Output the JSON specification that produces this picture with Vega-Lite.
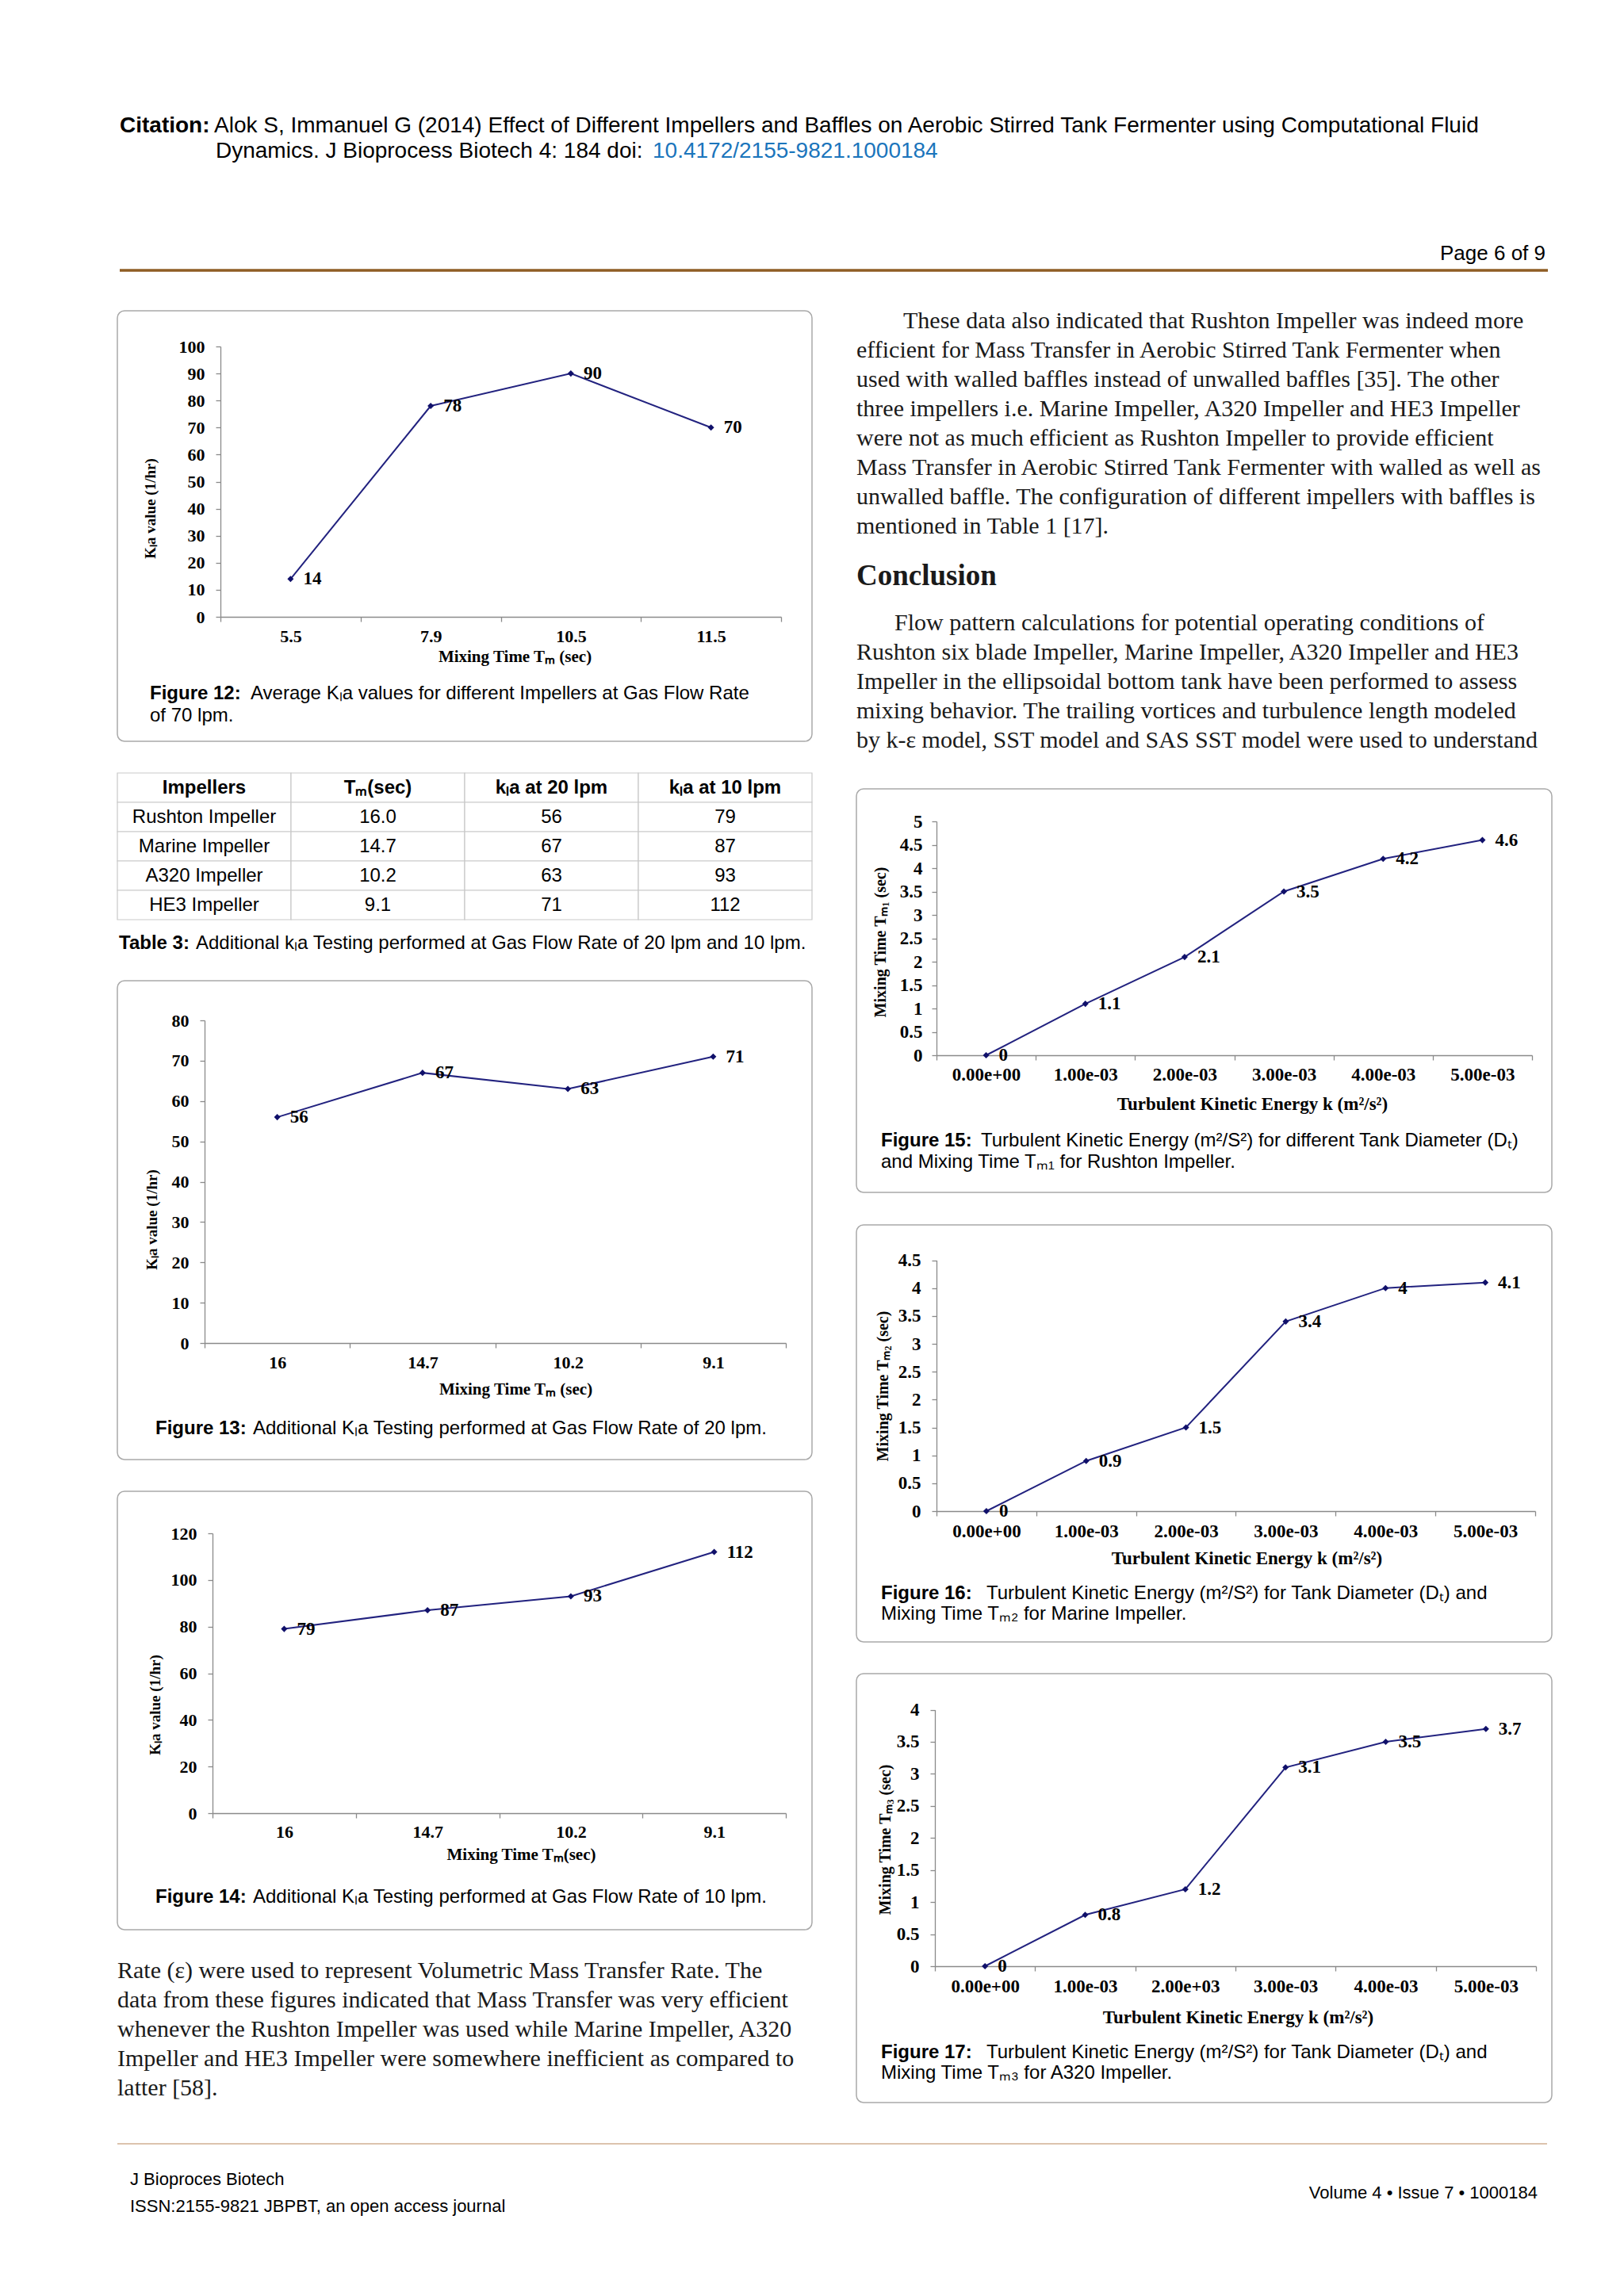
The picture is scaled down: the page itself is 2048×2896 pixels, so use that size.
{
"$schema": "https://vega.github.io/schema/vega-lite/v6.json",
"background": "#ffffff",
"padding": 0,
"spacing": 0,
"config": {
  "view": {"stroke": null},
  "concat": {"spacing": 0},
  "axis": {"domainColor": "#8a8a8a", "domainWidth": 1.3, "tickColor": "#8a8a8a", "tickWidth": 1.3, "tickSize": 6, "labelColor": "#000000", "titleColor": "#000000", "labelFont": "Liberation Serif", "titleFont": "Liberation Serif", "labelFontWeight": "bold", "titleFontWeight": "bold", "grid": false, "labelOverlap": false, "labelFlush": false, "labelBound": false, "titleBaseline": "middle", "titleAlign": "center"},
  "axisX": {"labelAngle": 0, "labelBaseline": "middle"},
  "axisY": {"titleAngle": 270}
},
"vconcat": [
 {"hconcat": [
   {"width": 149, "height": 372, "data": {"values": [{}]}, "mark": "text", "encoding": {"text": {"value": ""}}},
   {"vconcat": [
     {"width": 1801, "height": 143, "data": {"values": [{}]}, "mark": "text", "encoding": {"text": {"value": ""}}},
     {"width": 1801, "height": 64,
      "encoding": {"x": {"value": 0}, "y": {"field": "line", "type": "ordinal", "bandPosition": 0.5, "scale": {"type": "band", "domain": [0, 1], "paddingInner": 0, "paddingOuter": 0}, "axis": null}, "text": {"field": "t"}},
      "layer": [
        {"data": {"values": [{"line": 0, "t": "Citation:"}]}, "mark": {"type": "text", "align": "left", "baseline": "middle", "font": "Liberation Sans", "fontWeight": "bold", "fontSize": 28, "color": "#000000"}},
        {"data": {"values": [{"line": 0, "t": "Alok S, Immanuel G (2014) Effect of Different Impellers and Baffles on Aerobic Stirred Tank Fermenter using Computational Fluid"}]}, "mark": {"type": "text", "align": "left", "baseline": "middle", "font": "Liberation Sans", "fontSize": 28, "color": "#000000", "dx": 119}},
        {"data": {"values": [{"line": 1, "t": "Dynamics. J Bioprocess Biotech 4: 184 doi:"}]}, "mark": {"type": "text", "align": "left", "baseline": "middle", "font": "Liberation Sans", "fontSize": 28, "color": "#000000", "dx": 121}},
        {"data": {"values": [{"line": 1, "t": "10.4172/2155-9821.1000184"}]}, "mark": {"type": "text", "align": "left", "baseline": "middle", "font": "Liberation Sans", "fontSize": 28, "color": "#1b75bc", "dx": 672}}
      ]},
     {"width": 1801, "height": 95, "data": {"values": [{}]}, "mark": "text", "encoding": {"text": {"value": ""}}},
     {"width": 1801, "height": 36, "data": {"values": [{"line": 0, "t": "Page 6 of 9"}]},
      "mark": {"type": "text", "align": "right", "baseline": "middle", "font": "Liberation Sans", "fontSize": 26, "color": "#000000", "dx": -3},
      "encoding": {"x": {"value": "width"}, "y": {"field": "line", "type": "ordinal", "bandPosition": 0.5, "scale": {"type": "band", "paddingInner": 0, "paddingOuter": 0}, "axis": null}, "text": {"field": "t"}}},
     {"width": 1801, "height": 6, "data": {"values": [{"line": 0}]},
      "mark": {"type": "rule", "color": "#8f5d24", "strokeWidth": 3.5},
      "encoding": {"x": {"value": 0}, "x2": {"value": "width"}, "y": {"field": "line", "type": "ordinal", "bandPosition": 0.5, "scale": {"type": "band", "paddingInner": 0, "paddingOuter": 0}, "axis": null}}},
     {"width": 1801, "height": 28, "data": {"values": [{}]}, "mark": "text", "encoding": {"text": {"value": ""}}}
   ], "spacing": 0, "bounds": "flush"}
 ], "spacing": 0},

 {"hconcat": [
   {"width": 147, "height": 2308, "data": {"values": [{}]}, "mark": "text", "encoding": {"text": {"value": ""}}},
   {"vconcat": [
     {"width": 876, "height": 20, "data": {"values": [{}]}, "mark": "text", "encoding": {"text": {"value": ""}}},
     {"width": 876, "height": 543,
      "view": {"stroke": "#a9a9a9", "strokeWidth": 1.5, "cornerRadius": 9},
      "resolve": {"scale": {"y": "independent"}},
      "layer": [
        {"data": {"values": [{"t": "5.5", "v": 14}, {"t": "7.9", "v": 78}, {"t": "10.5", "v": 90}, {"t": "11.5", "v": 70}]},
         "encoding": {
           "x": {"field": "t", "type": "ordinal", "sort": null, "scale": {"type": "band", "range": [130, 837], "paddingInner": 0, "paddingOuter": 0},
                 "axis": {"orient": "bottom", "offset": -157, "tickBand": "extent", "labelFontSize": 22, "labelPadding": 18, "title": "Mixing Time Tₘ (sec)", "titleFontSize": 21, "titleX": 501, "titleY": 50}},
           "y": {"field": "v", "type": "quantitative", "scale": {"domain": [0, 100], "range": [386, 45], "nice": false},
                 "axis": {"orient": "left", "offset": -130, "values": [0, 10, 20, 30, 40, 50, 60, 70, 80, 90, 100], "format": ".1~f", "labelFontSize": 22, "labelPadding": 14, "title": "Kₗa value (1/hr)", "titleFontSize": 19, "titleX": -89, "titleY": 249}}
         },
         "layer": [
           {"mark": {"type": "line", "color": "#22227f", "strokeWidth": 2}},
           {"mark": {"type": "point", "shape": "diamond", "filled": true, "size": 65, "color": "#10106a", "opacity": 1}},
           {"mark": {"type": "text", "align": "left", "baseline": "middle", "dx": 16, "font": "Liberation Serif", "fontWeight": "bold", "fontSize": 23, "color": "#000000"}, "encoding": {"text": {"field": "v", "format": ".1~f"}}}
         ]},
        {"data": {"values": [{"line": 0, "part": "label", "t": "Figure 12:"}, {"line": 0, "part": "rest", "t": "Average Kₗa values for different Impellers at Gas Flow Rate"}, {"line": 1, "part": "cont", "t": "of 70 lpm."}]},
         "encoding": {"x": {"value": 0}, "y": {"field": "line", "type": "quantitative", "scale": {"domain": [0, 1], "range": [483, 511]}, "axis": null}, "text": {"field": "t"}},
         "layer": [
           {"transform": [{"filter": "datum.part === 'label'"}], "mark": {"type": "text", "align": "left", "baseline": "middle", "font": "Liberation Sans", "fontWeight": "bold", "fontSize": 24, "color": "#000000", "dx": 41}},
           {"transform": [{"filter": "datum.part === 'rest'"}], "mark": {"type": "text", "align": "left", "baseline": "middle", "font": "Liberation Sans", "fontSize": 24, "color": "#000000", "dx": 168}},
           {"transform": [{"filter": "datum.part === 'cont'"}], "mark": {"type": "text", "align": "left", "baseline": "middle", "font": "Liberation Sans", "fontSize": 24, "color": "#000000", "dx": 41}}
         ]}
      ]},
     {"width": 876, "height": 40, "data": {"values": [{}]}, "mark": "text", "encoding": {"text": {"value": ""}}},
     {"width": 876, "height": 185,
      "data": {"values": [
        {"r": 0, "c": 0, "t": "Impellers"}, {"r": 0, "c": 1, "t": "Tₘ(sec)"}, {"r": 0, "c": 2, "t": "kₗa at 20 lpm"}, {"r": 0, "c": 3, "t": "kₗa at 10 lpm"},
        {"r": 1, "c": 0, "t": "Rushton Impeller"}, {"r": 1, "c": 1, "t": "16.0"}, {"r": 1, "c": 2, "t": "56"}, {"r": 1, "c": 3, "t": "79"},
        {"r": 2, "c": 0, "t": "Marine Impeller"}, {"r": 2, "c": 1, "t": "14.7"}, {"r": 2, "c": 2, "t": "67"}, {"r": 2, "c": 3, "t": "87"},
        {"r": 3, "c": 0, "t": "A320 Impeller"}, {"r": 3, "c": 1, "t": "10.2"}, {"r": 3, "c": 2, "t": "63"}, {"r": 3, "c": 3, "t": "93"},
        {"r": 4, "c": 0, "t": "HE3 Impeller"}, {"r": 4, "c": 1, "t": "9.1"}, {"r": 4, "c": 2, "t": "71"}, {"r": 4, "c": 3, "t": "112"}
      ]},
      "encoding": {
        "x": {"field": "c", "type": "ordinal", "scale": {"type": "band", "paddingInner": 0, "paddingOuter": 0}, "axis": null},
        "y": {"field": "r", "type": "ordinal", "scale": {"type": "band", "paddingInner": 0, "paddingOuter": 0}, "axis": null}
      },
      "layer": [
        {"mark": {"type": "rect", "fill": "#ffffff", "stroke": "#c9c9c9", "strokeWidth": 1.2}},
        {"transform": [{"filter": "datum.r === 0"}], "mark": {"type": "text", "font": "Liberation Sans", "fontWeight": "bold", "fontSize": 24, "baseline": "middle", "align": "center", "color": "#000000"}, "encoding": {"text": {"field": "t"}}},
        {"transform": [{"filter": "datum.r > 0"}], "mark": {"type": "text", "font": "Liberation Sans", "fontSize": 24, "baseline": "middle", "align": "center", "color": "#000000"}, "encoding": {"text": {"field": "t"}}}
      ]},
     {"width": 876, "height": 60,
      "data": {"values": [{"line": 0, "part": "label", "t": "Table 3:"}, {"line": 0, "part": "rest", "t": "Additional kₗa Testing performed at Gas Flow Rate of 20 lpm and 10 lpm."}]},
      "encoding": {"x": {"value": 0}, "y": {"field": "line", "type": "ordinal", "bandPosition": 0.5, "scale": {"type": "band", "paddingInner": 0, "paddingOuter": 0}, "axis": null}, "text": {"field": "t"}},
      "layer": [
        {"transform": [{"filter": "datum.part === 'label'"}], "mark": {"type": "text", "align": "left", "baseline": "middle", "font": "Liberation Sans", "fontWeight": "bold", "fontSize": 24, "color": "#000000", "dx": 2}},
        {"transform": [{"filter": "datum.part === 'rest'"}], "mark": {"type": "text", "align": "left", "baseline": "middle", "font": "Liberation Sans", "fontSize": 24, "color": "#000000", "dx": 99}}
      ]},
     {"width": 876, "height": 17, "data": {"values": [{}]}, "mark": "text", "encoding": {"text": {"value": ""}}},
     {"width": 876, "height": 604,
      "view": {"stroke": "#a9a9a9", "strokeWidth": 1.5, "cornerRadius": 9},
      "resolve": {"scale": {"y": "independent"}},
      "layer": [
        {"data": {"values": [{"t": "16", "v": 56}, {"t": "14.7", "v": 67}, {"t": "10.2", "v": 63}, {"t": "9.1", "v": 71}]},
         "encoding": {
           "x": {"field": "t", "type": "ordinal", "sort": null, "scale": {"type": "band", "range": [110, 843], "paddingInner": 0, "paddingOuter": 0},
                 "axis": {"orient": "bottom", "offset": -147, "tickBand": "extent", "labelFontSize": 22, "labelPadding": 18, "title": "Mixing Time Tₘ (sec)", "titleFontSize": 21, "titleX": 502, "titleY": 58}},
           "y": {"field": "v", "type": "quantitative", "scale": {"domain": [0, 80], "range": [457, 50], "nice": false},
                 "axis": {"orient": "left", "offset": -110, "values": [0, 10, 20, 30, 40, 50, 60, 70, 80], "format": ".1~f", "labelFontSize": 22, "labelPadding": 14, "title": "Kₗa value (1/hr)", "titleFontSize": 19, "titleX": -67, "titleY": 301}}
         },
         "layer": [
           {"mark": {"type": "line", "color": "#22227f", "strokeWidth": 2}},
           {"mark": {"type": "point", "shape": "diamond", "filled": true, "size": 65, "color": "#10106a", "opacity": 1}},
           {"mark": {"type": "text", "align": "left", "baseline": "middle", "dx": 16, "font": "Liberation Serif", "fontWeight": "bold", "fontSize": 23, "color": "#000000"}, "encoding": {"text": {"field": "v", "format": ".1~f"}}}
         ]},
        {"data": {"values": [{"line": 0, "part": "label", "t": "Figure 13:"}, {"line": 0, "part": "rest", "t": "Additional Kₗa Testing performed at Gas Flow Rate of 20 lpm."}]},
         "encoding": {"x": {"value": 0}, "y": {"field": "line", "type": "quantitative", "scale": {"domain": [0, 1], "range": [565, 593]}, "axis": null}, "text": {"field": "t"}},
         "layer": [
           {"transform": [{"filter": "datum.part === 'label'"}], "mark": {"type": "text", "align": "left", "baseline": "middle", "font": "Liberation Sans", "fontWeight": "bold", "fontSize": 24, "color": "#000000", "dx": 48}},
           {"transform": [{"filter": "datum.part === 'rest'"}], "mark": {"type": "text", "align": "left", "baseline": "middle", "font": "Liberation Sans", "fontSize": 24, "color": "#000000", "dx": 171}}
         ]}
      ]},
     {"width": 876, "height": 40, "data": {"values": [{}]}, "mark": "text", "encoding": {"text": {"value": ""}}},
     {"width": 876, "height": 553,
      "view": {"stroke": "#a9a9a9", "strokeWidth": 1.5, "cornerRadius": 9},
      "resolve": {"scale": {"y": "independent"}},
      "layer": [
        {"data": {"values": [{"t": "16", "v": 79}, {"t": "14.7", "v": 87}, {"t": "10.2", "v": 93}, {"t": "9.1", "v": 112}]},
         "encoding": {
           "x": {"field": "t", "type": "ordinal", "sort": null, "scale": {"type": "band", "range": [120, 843], "paddingInner": 0, "paddingOuter": 0},
                 "axis": {"orient": "bottom", "offset": -147, "tickBand": "extent", "labelFontSize": 22, "labelPadding": 17, "title": "Mixing Time Tₘ(sec)", "titleFontSize": 21, "titleX": 509, "titleY": 52}},
           "y": {"field": "v", "type": "quantitative", "scale": {"domain": [0, 120], "range": [406, 53], "nice": false},
                 "axis": {"orient": "left", "offset": -120, "values": [0, 20, 40, 60, 80, 100, 120], "format": ".1~f", "labelFontSize": 22, "labelPadding": 14, "title": "Kₗa value (1/hr)", "titleFontSize": 19, "titleX": -73, "titleY": 269}}
         },
         "layer": [
           {"mark": {"type": "line", "color": "#22227f", "strokeWidth": 2}},
           {"mark": {"type": "point", "shape": "diamond", "filled": true, "size": 65, "color": "#10106a", "opacity": 1}},
           {"mark": {"type": "text", "align": "left", "baseline": "middle", "dx": 16, "font": "Liberation Serif", "fontWeight": "bold", "fontSize": 23, "color": "#000000"}, "encoding": {"text": {"field": "v", "format": ".1~f"}}}
         ]},
        {"data": {"values": [{"line": 0, "part": "label", "t": "Figure 14:"}, {"line": 0, "part": "rest", "t": "Additional Kₗa Testing performed at Gas Flow Rate of 10 lpm."}]},
         "encoding": {"x": {"value": 0}, "y": {"field": "line", "type": "quantitative", "scale": {"domain": [0, 1], "range": [512, 540]}, "axis": null}, "text": {"field": "t"}},
         "layer": [
           {"transform": [{"filter": "datum.part === 'label'"}], "mark": {"type": "text", "align": "left", "baseline": "middle", "font": "Liberation Sans", "fontWeight": "bold", "fontSize": 24, "color": "#000000", "dx": 48}},
           {"transform": [{"filter": "datum.part === 'rest'"}], "mark": {"type": "text", "align": "left", "baseline": "middle", "font": "Liberation Sans", "fontSize": 24, "color": "#000000", "dx": 171}}
         ]}
      ]},
     {"width": 876, "height": 33, "data": {"values": [{}]}, "mark": "text", "encoding": {"text": {"value": ""}}},
     {"width": 876, "height": 185,
      "data": {"values": [
        {"line": 0, "t": "Rate (ε) were used to represent Volumetric Mass Transfer Rate. The"},
        {"line": 1, "t": "data from these figures indicated that Mass Transfer was very efficient"},
        {"line": 2, "t": "whenever the Rushton Impeller was used while Marine Impeller, A320"},
        {"line": 3, "t": "Impeller and HE3 Impeller were somewhere inefficient as compared to"},
        {"line": 4, "t": "latter [58]."}
      ]},
      "mark": {"type": "text", "align": "left", "baseline": "middle", "font": "Liberation Serif", "fontSize": 30, "color": "#1a1a1a"},
      "encoding": {"x": {"value": 0}, "y": {"field": "line", "type": "ordinal", "bandPosition": 0.5, "scale": {"type": "band", "paddingInner": 0, "paddingOuter": 0}, "axis": null}, "text": {"field": "t"}}},
     {"width": 876, "height": 28, "data": {"values": [{}]}, "mark": "text", "encoding": {"text": {"value": ""}}}
   ], "spacing": 0, "bounds": "flush"},
   {"width": 54, "height": 2308, "data": {"values": [{}]}, "mark": "text", "encoding": {"text": {"value": ""}}},
   {"vconcat": [
     {"width": 877, "height": 14, "data": {"values": [{}]}, "mark": "text", "encoding": {"text": {"value": ""}}},
     {"width": 877, "height": 296,
      "data": {"values": [
        {"line": 0, "t": "These data also indicated that Rushton Impeller was indeed more"},
        {"line": 1, "t": "efficient for Mass Transfer in Aerobic Stirred Tank Fermenter when"},
        {"line": 2, "t": "used with walled baffles instead of unwalled baffles [35]. The other"},
        {"line": 3, "t": "three impellers i.e. Marine Impeller, A320 Impeller and HE3 Impeller"},
        {"line": 4, "t": "were not as much efficient as Rushton Impeller to provide efficient"},
        {"line": 5, "t": "Mass Transfer in Aerobic Stirred Tank Fermenter with walled as well as"},
        {"line": 6, "t": "unwalled baffle. The configuration of different impellers with baffles is"},
        {"line": 7, "t": "mentioned in Table 1 [17]."}
      ]},
      "encoding": {"x": {"value": 0}, "y": {"field": "line", "type": "ordinal", "bandPosition": 0.5, "scale": {"type": "band", "paddingInner": 0, "paddingOuter": 0}, "axis": null}, "text": {"field": "t"}},
      "layer": [
        {"transform": [{"filter": "datum.line === 0"}], "mark": {"type": "text", "align": "left", "baseline": "middle", "font": "Liberation Serif", "fontSize": 30, "color": "#1a1a1a", "dx": 59}},
        {"transform": [{"filter": "datum.line > 0"}], "mark": {"type": "text", "align": "left", "baseline": "middle", "font": "Liberation Serif", "fontSize": 30, "color": "#1a1a1a"}}
      ]},
     {"width": 877, "height": 8, "data": {"values": [{}]}, "mark": "text", "encoding": {"text": {"value": ""}}},
     {"width": 877, "height": 74,
      "data": {"values": [{"line": 0, "t": "Conclusion"}]},
      "mark": {"type": "text", "align": "left", "baseline": "middle", "font": "Liberation Serif", "fontWeight": "bold", "fontSize": 37, "color": "#1a1a1a"},
      "encoding": {"x": {"value": 0}, "y": {"field": "line", "type": "ordinal", "bandPosition": 0.5, "scale": {"type": "band", "paddingInner": 0, "paddingOuter": 0}, "axis": null}, "text": {"field": "t"}}},
     {"width": 877, "height": 3, "data": {"values": [{}]}, "mark": "text", "encoding": {"text": {"value": ""}}},
     {"width": 877, "height": 185,
      "data": {"values": [
        {"line": 0, "t": "Flow pattern calculations for potential operating conditions of"},
        {"line": 1, "t": "Rushton six blade Impeller, Marine Impeller, A320 Impeller and HE3"},
        {"line": 2, "t": "Impeller in the ellipsoidal bottom tank have been performed to assess"},
        {"line": 3, "t": "mixing behavior. The trailing vortices and turbulence length modeled"},
        {"line": 4, "t": "by k-ε model, SST model and SAS SST model were used to understand"}
      ]},
      "encoding": {"x": {"value": 0}, "y": {"field": "line", "type": "ordinal", "bandPosition": 0.5, "scale": {"type": "band", "paddingInner": 0, "paddingOuter": 0}, "axis": null}, "text": {"field": "t"}},
      "layer": [
        {"transform": [{"filter": "datum.line === 0"}], "mark": {"type": "text", "align": "left", "baseline": "middle", "font": "Liberation Serif", "fontSize": 30, "color": "#1a1a1a", "dx": 48}},
        {"transform": [{"filter": "datum.line > 0"}], "mark": {"type": "text", "align": "left", "baseline": "middle", "font": "Liberation Serif", "fontSize": 30, "color": "#1a1a1a"}}
      ]},
     {"width": 877, "height": 43, "data": {"values": [{}]}, "mark": "text", "encoding": {"text": {"value": ""}}},
     {"width": 877, "height": 509,
      "view": {"stroke": "#a9a9a9", "strokeWidth": 1.5, "cornerRadius": 9},
      "resolve": {"scale": {"y": "independent"}},
      "layer": [
        {"data": {"values": [{"t": "0.00e+00", "v": 0}, {"t": "1.00e-03", "v": 1.1}, {"t": "2.00e-03", "v": 2.1}, {"t": "3.00e-03", "v": 3.5}, {"t": "4.00e-03", "v": 4.2}, {"t": "5.00e-03", "v": 4.6}]},
         "encoding": {
           "x": {"field": "t", "type": "ordinal", "sort": null, "scale": {"type": "band", "range": [101, 852], "paddingInner": 0, "paddingOuter": 0},
                 "axis": {"orient": "bottom", "offset": -173, "tickBand": "extent", "labelFontSize": 23, "labelPadding": 18, "title": "Turbulent Kinetic Energy k (m²/s²)", "titleFontSize": 23, "titleX": 499, "titleY": 61}},
           "y": {"field": "v", "type": "quantitative", "scale": {"domain": [0, 5], "range": [336, 41], "nice": false},
                 "axis": {"orient": "left", "offset": -101, "values": [0, 0.5, 1, 1.5, 2, 2.5, 3, 3.5, 4, 4.5, 5], "format": ".1~f", "labelFontSize": 23, "labelPadding": 12, "title": "Mixing Time Tₘ₁ (sec)", "titleFontSize": 20, "titleX": -71, "titleY": 193}}
         },
         "layer": [
           {"mark": {"type": "line", "color": "#22227f", "strokeWidth": 2}},
           {"mark": {"type": "point", "shape": "diamond", "filled": true, "size": 65, "color": "#10106a", "opacity": 1}},
           {"mark": {"type": "text", "align": "left", "baseline": "middle", "dx": 16, "font": "Liberation Serif", "fontWeight": "bold", "fontSize": 23, "color": "#000000"}, "encoding": {"text": {"field": "v", "format": ".1~f"}}}
         ]},
        {"data": {"values": [{"line": 0, "part": "label", "t": "Figure 15:"}, {"line": 0, "part": "rest", "t": "Turbulent Kinetic Energy (m²/S²) for different Tank Diameter (Dₜ)"}, {"line": 1, "part": "cont", "t": "and Mixing Time Tₘ₁ for Rushton Impeller."}]},
         "encoding": {"x": {"value": 0}, "y": {"field": "line", "type": "quantitative", "scale": {"domain": [0, 1], "range": [444, 471]}, "axis": null}, "text": {"field": "t"}},
         "layer": [
           {"transform": [{"filter": "datum.part === 'label'"}], "mark": {"type": "text", "align": "left", "baseline": "middle", "font": "Liberation Sans", "fontWeight": "bold", "fontSize": 24, "color": "#000000", "dx": 31}},
           {"transform": [{"filter": "datum.part === 'rest'"}], "mark": {"type": "text", "align": "left", "baseline": "middle", "font": "Liberation Sans", "fontSize": 24, "color": "#000000", "dx": 157}},
           {"transform": [{"filter": "datum.part === 'cont'"}], "mark": {"type": "text", "align": "left", "baseline": "middle", "font": "Liberation Sans", "fontSize": 24, "color": "#000000", "dx": 31}}
         ]}
      ]},
     {"width": 877, "height": 41, "data": {"values": [{}]}, "mark": "text", "encoding": {"text": {"value": ""}}},
     {"width": 877, "height": 526,
      "view": {"stroke": "#a9a9a9", "strokeWidth": 1.5, "cornerRadius": 9},
      "resolve": {"scale": {"y": "independent"}},
      "layer": [
        {"data": {"values": [{"t": "0.00e+00", "v": 0}, {"t": "1.00e-03", "v": 0.9}, {"t": "2.00e-03", "v": 1.5}, {"t": "3.00e-03", "v": 3.4}, {"t": "4.00e-03", "v": 4}, {"t": "5.00e-03", "v": 4.1}]},
         "encoding": {
           "x": {"field": "t", "type": "ordinal", "sort": null, "scale": {"type": "band", "range": [101, 856], "paddingInner": 0, "paddingOuter": 0},
                 "axis": {"orient": "bottom", "offset": -165, "tickBand": "extent", "labelFontSize": 23, "labelPadding": 19, "title": "Turbulent Kinetic Energy k (m²/s²)", "titleFontSize": 23, "titleX": 492, "titleY": 59}},
           "y": {"field": "v", "type": "quantitative", "scale": {"domain": [0, 4.5], "range": [361, 44.5], "nice": false},
                 "axis": {"orient": "left", "offset": -101, "values": [0, 0.5, 1, 1.5, 2, 2.5, 3, 3.5, 4, 4.5], "format": ".1~f", "labelFontSize": 23, "labelPadding": 14, "title": "Mixing Time Tₘ₂ (sec)", "titleFontSize": 20, "titleX": -68, "titleY": 203}}
         },
         "layer": [
           {"mark": {"type": "line", "color": "#22227f", "strokeWidth": 2}},
           {"mark": {"type": "point", "shape": "diamond", "filled": true, "size": 65, "color": "#10106a", "opacity": 1}},
           {"mark": {"type": "text", "align": "left", "baseline": "middle", "dx": 16, "font": "Liberation Serif", "fontWeight": "bold", "fontSize": 23, "color": "#000000"}, "encoding": {"text": {"field": "v", "format": ".1~f"}}}
         ]},
        {"data": {"values": [{"line": 0, "part": "label", "t": "Figure 16:"}, {"line": 0, "part": "rest", "t": "Turbulent Kinetic Energy (m²/S²) for Tank Diameter (Dₜ) and"}, {"line": 1, "part": "cont", "t": "Mixing Time Tₘ₂ for Marine Impeller."}]},
         "encoding": {"x": {"value": 0}, "y": {"field": "line", "type": "quantitative", "scale": {"domain": [0, 1], "range": [465, 491]}, "axis": null}, "text": {"field": "t"}},
         "layer": [
           {"transform": [{"filter": "datum.part === 'label'"}], "mark": {"type": "text", "align": "left", "baseline": "middle", "font": "Liberation Sans", "fontWeight": "bold", "fontSize": 24, "color": "#000000", "dx": 31}},
           {"transform": [{"filter": "datum.part === 'rest'"}], "mark": {"type": "text", "align": "left", "baseline": "middle", "font": "Liberation Sans", "fontSize": 24, "color": "#000000", "dx": 164}},
           {"transform": [{"filter": "datum.part === 'cont'"}], "mark": {"type": "text", "align": "left", "baseline": "middle", "font": "Liberation Sans", "fontSize": 24, "color": "#000000", "dx": 31}}
         ]}
      ]},
     {"width": 877, "height": 40, "data": {"values": [{}]}, "mark": "text", "encoding": {"text": {"value": ""}}},
     {"width": 877, "height": 541,
      "view": {"stroke": "#a9a9a9", "strokeWidth": 1.5, "cornerRadius": 9},
      "resolve": {"scale": {"y": "independent"}},
      "layer": [
        {"data": {"values": [{"t": "0.00e+00", "v": 0}, {"t": "1.00e-03", "v": 0.8}, {"t": "2.00e+03", "v": 1.2}, {"t": "3.00e-03", "v": 3.1}, {"t": "4.00e-03", "v": 3.5}, {"t": "5.00e-03", "v": 3.7}]},
         "encoding": {
           "x": {"field": "t", "type": "ordinal", "sort": null, "scale": {"type": "band", "range": [99, 857], "paddingInner": 0, "paddingOuter": 0},
                 "axis": {"orient": "bottom", "offset": -172, "tickBand": "extent", "labelFontSize": 23, "labelPadding": 19, "title": "Turbulent Kinetic Energy k (m²/s²)", "titleFontSize": 23, "titleX": 481, "titleY": 64}},
           "y": {"field": "v", "type": "quantitative", "scale": {"domain": [0, 4], "range": [369, 45.5], "nice": false},
                 "axis": {"orient": "left", "offset": -99, "values": [0, 0.5, 1, 1.5, 2, 2.5, 3, 3.5, 4], "format": ".1~f", "labelFontSize": 23, "labelPadding": 14, "title": "Mixing Time Tₘ₃ (sec)", "titleFontSize": 20, "titleX": -63, "titleY": 209}}
         },
         "layer": [
           {"mark": {"type": "line", "color": "#22227f", "strokeWidth": 2}},
           {"mark": {"type": "point", "shape": "diamond", "filled": true, "size": 65, "color": "#10106a", "opacity": 1}},
           {"mark": {"type": "text", "align": "left", "baseline": "middle", "dx": 16, "font": "Liberation Serif", "fontWeight": "bold", "fontSize": 23, "color": "#000000"}, "encoding": {"text": {"field": "v", "format": ".1~f"}}}
         ]},
        {"data": {"values": [{"line": 0, "part": "label", "t": "Figure 17:"}, {"line": 0, "part": "rest", "t": "Turbulent Kinetic Energy (m²/S²) for Tank Diameter (Dₜ) and"}, {"line": 1, "part": "cont", "t": "Mixing Time Tₘ₃ for A320 Impeller."}]},
         "encoding": {"x": {"value": 0}, "y": {"field": "line", "type": "quantitative", "scale": {"domain": [0, 1], "range": [478, 504]}, "axis": null}, "text": {"field": "t"}},
         "layer": [
           {"transform": [{"filter": "datum.part === 'label'"}], "mark": {"type": "text", "align": "left", "baseline": "middle", "font": "Liberation Sans", "fontWeight": "bold", "fontSize": 24, "color": "#000000", "dx": 31}},
           {"transform": [{"filter": "datum.part === 'rest'"}], "mark": {"type": "text", "align": "left", "baseline": "middle", "font": "Liberation Sans", "fontSize": 24, "color": "#000000", "dx": 164}},
           {"transform": [{"filter": "datum.part === 'cont'"}], "mark": {"type": "text", "align": "left", "baseline": "middle", "font": "Liberation Sans", "fontSize": 24, "color": "#000000", "dx": 31}}
         ]}
      ]},
     {"width": 877, "height": 28, "data": {"values": [{}]}, "mark": "text", "encoding": {"text": {"value": ""}}}
   ], "spacing": 0, "bounds": "flush"}
 ], "spacing": 0},

 {"hconcat": [
   {"width": 147, "height": 216, "data": {"values": [{}]}, "mark": "text", "encoding": {"text": {"value": ""}}},
   {"vconcat": [
     {"width": 1803, "height": 20, "data": {"values": [{}]}, "mark": "text", "encoding": {"text": {"value": ""}}},
     {"width": 1803, "height": 8, "data": {"values": [{"line": 0}]},
      "mark": {"type": "rule", "color": "#dcc3ad", "strokeWidth": 2},
      "encoding": {"x": {"value": 0}, "x2": {"value": "width"}, "y": {"field": "line", "type": "ordinal", "bandPosition": 0.5, "scale": {"type": "band", "paddingInner": 0, "paddingOuter": 0}, "axis": null}}},
     {"width": 1803, "height": 24, "data": {"values": [{}]}, "mark": "text", "encoding": {"text": {"value": ""}}},
     {"width": 1803, "height": 68,
      "resolve": {"scale": {"y": "independent"}},
      "layer": [
        {"data": {"values": [{"line": 0, "t": "J Bioproces Biotech"}, {"line": 1, "t": "ISSN:2155-9821 JBPBT, an open access journal"}]},
         "mark": {"type": "text", "align": "left", "baseline": "middle", "font": "Liberation Sans", "fontSize": 22, "color": "#000000", "dx": 16},
         "encoding": {"x": {"value": 0}, "y": {"field": "line", "type": "ordinal", "bandPosition": 0.5, "scale": {"type": "band", "paddingInner": 0, "paddingOuter": 0}, "axis": null}, "text": {"field": "t"}}},
        {"data": {"values": [{"line": 0, "t": "Volume 4 • Issue 7 • 1000184"}]},
         "mark": {"type": "text", "align": "right", "baseline": "middle", "font": "Liberation Sans", "fontSize": 22, "color": "#000000", "dx": -12},
         "encoding": {"x": {"value": "width"}, "y": {"field": "line", "type": "ordinal", "bandPosition": 0.5, "scale": {"type": "band", "paddingInner": 0, "paddingOuter": 0}, "axis": null}, "text": {"field": "t"}}}
      ]},
     {"width": 1803, "height": 96, "data": {"values": [{}]}, "mark": "text", "encoding": {"text": {"value": ""}}}
   ], "spacing": 0, "bounds": "flush"}
 ], "spacing": 0}
]
}
